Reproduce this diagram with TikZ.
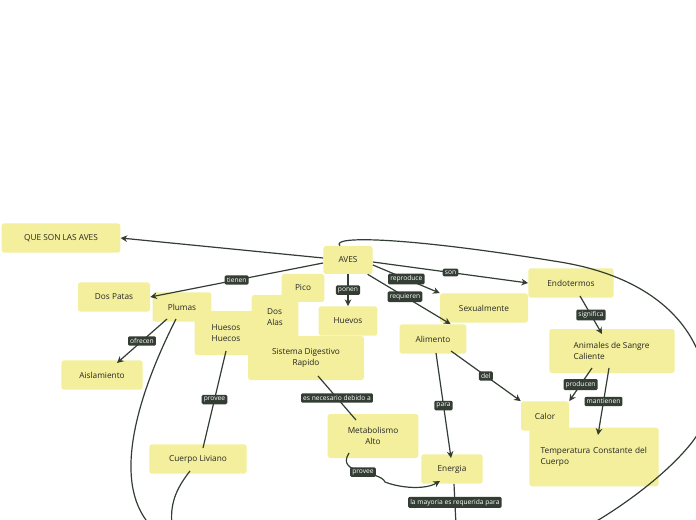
\documentclass[tikz,border=0pt]{standalone}
\usepackage{fontspec}
\setmainfont{Open Sans}
\usetikzlibrary{arrows.meta}
\begin{document}
\begin{tikzpicture}[x=0.75pt,y=-0.75pt,
  box/.style={fill=yellow!45!white!95!orange,fill=boxc,rounded corners=2pt,inner sep=0pt,font=\fontsize{6.2}{8}\selectfont,text=black!85,align=center},
  lab/.style={fill=labc,rounded corners=1pt,text=white,font=\fontsize{5}{6}\selectfont,inner sep=1.6pt},
  con/.style={draw=linec,line width=0.9pt},
  arr/.style={con,-{Stealth[length=5pt,width=5pt]}}]
\definecolor{boxc}{HTML}{F3EF9C}
\definecolor{labc}{HTML}{333D33}
\definecolor{linec}{HTML}{333D33}
\useasboundingbox (0,0) rectangle (696,520);
\clip (0,0) rectangle (696,520);
\node[box,minimum width=89,minimum height=22] (q) at (61,238) {QUE SON LAS AVES};
\node[box,minimum width=37,minimum height=21] (aves) at (348,260) {AVES};
\node[box,minimum width=54,minimum height=22] (patas) at (114,297) {Dos Patas};
\node[box,minimum width=44,minimum height=22] (plumas) at (182,307) {Plumas};
\node[box,minimum width=32,minimum height=21] (pico) at (303,288) {Pico};
\node[box,minimum width=35,minimum height=33,align=left] (alas) at (275,317) {Dos\\Alas};
\node[box,minimum width=44,minimum height=22] (huevos) at (348,321) {Huevos};
\node[box,minimum width=47,minimum height=33] (huesos) at (226,333) {Huesos\\Huecos};
\node[box,minimum width=87,minimum height=33] (sis) at (306,358) {Sistema Digestivo\\Rapido};
\node[box,minimum width=61,minimum height=22] (ais) at (102,375) {Aislamiento};
\node[box,minimum width=66,minimum height=22] (sex) at (484,308) {Sexualmente};
\node[box,minimum width=64,minimum height=22] (endo) at (571,283) {Endotermos};
\node[box,minimum width=50,minimum height=22] (ali) at (433,339) {Alimento};
\node[box,minimum width=94,minimum height=33,align=left] (anim) at (612,351) {Animales de Sangre\\Caliente\hspace*{12mm}};
\node[box,minimum width=36,minimum height=22] (calor) at (545,416) {Calor};
\node[box,minimum width=68,minimum height=33] (meta) at (373,436) {Metabolismo\\Alto};
\node[box,minimum width=73,minimum height=22] (cuerpo) at (198,459) {Cuerpo Liviano};
\node[box,minimum width=46,minimum height=22] (ener) at (452,469) {Energia};
\node[box,minimum width=97,minimum height=44,align=left,text width=80] (temp) at (594,457) {Temperatura Constante del Cuerpo};
\coordinate (o1) at (700,430);
\coordinate (o2) at (456,525);
\coordinate (o3) at (150,525);
\coordinate (o4) at (172,525);
\coordinate (o5) at (590,525);
% edges
\draw[arr] (aves.west) ++(0,-2) -- (q.east);
\draw[arr] (aves.west) ++(0,3) -- node[lab,pos=0.5]{tienen} (patas.east);
\draw[arr] (aves.south) -- node[lab]{ponen} (huevos.north);
\draw[arr] (aves.east) ++(0,5) -- node[lab]{reproduce} (sex.north west);
\draw[arr] ([xshift=-4]aves.south east) -- node[lab,pos=0.45]{requieren} ([xshift=-12]ali.north east);
\draw[arr] (aves.east) ++(0,2) -- node[lab]{son} (endo.west);
\draw[con] ([xshift=-6]aves.north) .. controls (330,236) and (400,236) .. (560,262) .. controls (700,285) and (720,380) .. (o1);
\draw[con] (o5) .. controls (650,490) and (690,450) .. (700,430);
\draw[arr] (580,296) -- node[lab]{significa} (602,334);
\draw[arr] (592,368) -- node[lab]{producen} (calor.north east);
\draw[arr] (609,368) -- node[lab]{mantienen} (598,435);
\draw[arr] (451,351) -- node[lab]{del} (calor.north west);
\draw[arr] (436,353) -- node[lab]{para} (451,458);
\draw[con] (454,484) -- node[lab,pos=0.45]{la mayoria es requerida para} (o2);
\draw[arr] (167,319) -- node[lab]{ofrecen} (117,363);
\draw[con] (176,319) .. controls (140,390) and (110,480) .. (o3);
\draw[con] (226,351) -- node[lab]{provee} (203,448);
\draw[con] (190,471) .. controls (175,490) and (170,505) .. (o4);
\draw[con] (318,376) -- node[lab]{es necesario debido a} (356,420);
\draw[arr] (349,453) .. controls (335,475) and (380,470) .. node[lab,pos=0.55]{provee} (385,482) .. controls (400,488) and (425,490) .. (440,481);
\end{tikzpicture}
\end{document}
